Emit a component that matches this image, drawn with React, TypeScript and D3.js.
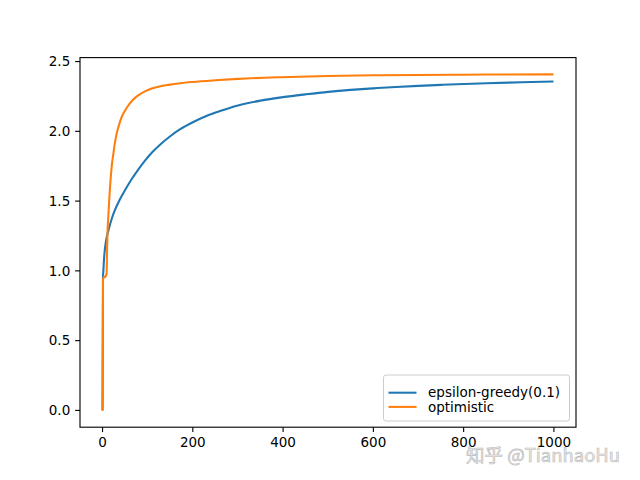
import React from "react";
import * as d3 from "d3";

const epsX = [0, 1, 2, 3, 5, 8, 13, 20, 28, 38, 50, 64, 79, 94, 110, 131, 150, 172, 200, 230, 260, 300, 350, 400, 450, 500, 550, 600, 650, 700, 750, 800, 850, 900, 950, 999];
const epsY = [0, 0.95, 1.01, 1.07, 1.15, 1.22, 1.29, 1.37, 1.44, 1.51, 1.58, 1.655, 1.725, 1.79, 1.85, 1.915, 1.965, 2.015, 2.065, 2.11, 2.145, 2.185, 2.22, 2.245, 2.265, 2.283, 2.297, 2.308, 2.318, 2.326, 2.333, 2.339, 2.344, 2.349, 2.353, 2.357];

const optX = [0, 1, 2, 4, 6, 8, 9, 10, 11, 13, 15, 17, 19, 21, 24, 27, 31, 36, 42, 50, 57, 68, 79, 95, 109, 130, 146, 172, 200, 250, 300, 393, 500, 615, 800, 999];
const optY = [0, 0.93, 0.95, 0.96, 0.955, 0.97, 0.98, 1.15, 1.28, 1.4, 1.52, 1.62, 1.7, 1.77, 1.84, 1.91, 1.98, 2.04, 2.1, 2.15, 2.185, 2.228, 2.258, 2.288, 2.307, 2.324, 2.333, 2.345, 2.354, 2.366, 2.376, 2.388, 2.397, 2.402, 2.406, 2.408];

const xTicks = [0, 200, 400, 600, 800, 1000];
const yTicks = [0, 0.5, 1.0, 1.5, 2.0, 2.5];
const seriesNames = ["epsilon-greedy(0.1)", "optimistic"];
const seriesColors = ["#1f77b4", "#ff7f0e"];

export default function App() {
  const W = 640, H = 480;
  const L = 80, R = 576, T = 57.6, B = 427.2;
  const xMin = 0, xMax = 999;
  const xs = xMax - xMin;
  const x = d3.scaleLinear().domain([xMin - 0.05 * xs, xMax + 0.05 * xs]).range([L, R]);
  const allY = [...epsY, ...optY];
  const yLo = d3.min(allY) as number, yHi = d3.max(allY) as number;
  const ys = yHi - yLo;
  const y = d3.scaleLinear().domain([yLo - 0.05 * ys, yHi + 0.05 * ys]).range([B, T]);

  const line = d3.line<[number, number]>().x(d => x(d[0])).y(d => y(d[1])).curve(d3.curveMonotoneX);
  const series = [
    epsX.map((v, i) => [v, epsY[i]] as [number, number]),
    optX.map((v, i) => [v, optY[i]] as [number, number]),
  ];
  const font = "'DejaVu Sans', sans-serif";
  const fs = 13.5;
  const tick = 4.86;

  const legX = 383.5, legY = 375, legW = 186, legH = 46;
  const rowY = [392.7, 406.9];

  return (
    <svg width={W} height={H} style={{ position: "absolute", left: 0, top: 0, background: "#fff" }} fontFamily={font}>
      <rect x={0} y={0} width={W} height={H} fill="#fff" />
      <defs>
        <clipPath id="plotclip">
          <rect x={L} y={T} width={R - L} height={B - T} />
        </clipPath>
      </defs>
      <g clipPath="url(#plotclip)">
        {series.map((s, i) => (
          <path key={i} d={line(s) || ""} fill="none" stroke={seriesColors[i]} strokeWidth={2.08} strokeLinejoin="round" strokeLinecap="butt" />
        ))}
      </g>
      <rect x={L} y={T} width={R - L} height={B - T} fill="none" stroke="#000" strokeWidth={1.11} />
      {xTicks.map(t => (
        <g key={"x" + t}>
          <line x1={x(t)} x2={x(t)} y1={B} y2={B + tick} stroke="#000" strokeWidth={1.11} />
          <text x={x(t)} y={B + tick + 4.86 + 10.4} textAnchor="middle" fontSize={fs} fill="#000">{String(t)}</text>
        </g>
      ))}
      {yTicks.map(t => (
        <g key={"y" + t}>
          <line x1={L - tick} x2={L} y1={y(t)} y2={y(t)} stroke="#000" strokeWidth={1.11} />
          <text x={L - tick - 4.86} y={y(t)} dy="0.36em" textAnchor="end" fontSize={fs} fill="#000">{t.toFixed(1)}</text>
        </g>
      ))}
      <rect x={legX} y={legY} width={legW} height={legH} rx={2.5} fill="#fff" fillOpacity={0.8} stroke="#cccccc" strokeWidth={1} />
      {seriesNames.map((n, i) => (
        <g key={n}>
          <line x1={388.5} x2={416.5} y1={rowY[i]} y2={rowY[i]} stroke={seriesColors[i]} strokeWidth={2.08} />
          <text x={428} y={rowY[i] + 4.6} fontSize={fs} fill="#000">{n}</text>
        </g>
      ))}
      <text x={466} y={462} fontSize={18.5} fontFamily="'Noto Sans CJK SC', 'Noto Sans', sans-serif" fill="#ececec" stroke="#b8b8b8" strokeWidth={0.6}>知乎 @TianhaoHu</text>
    </svg>
  );
}
